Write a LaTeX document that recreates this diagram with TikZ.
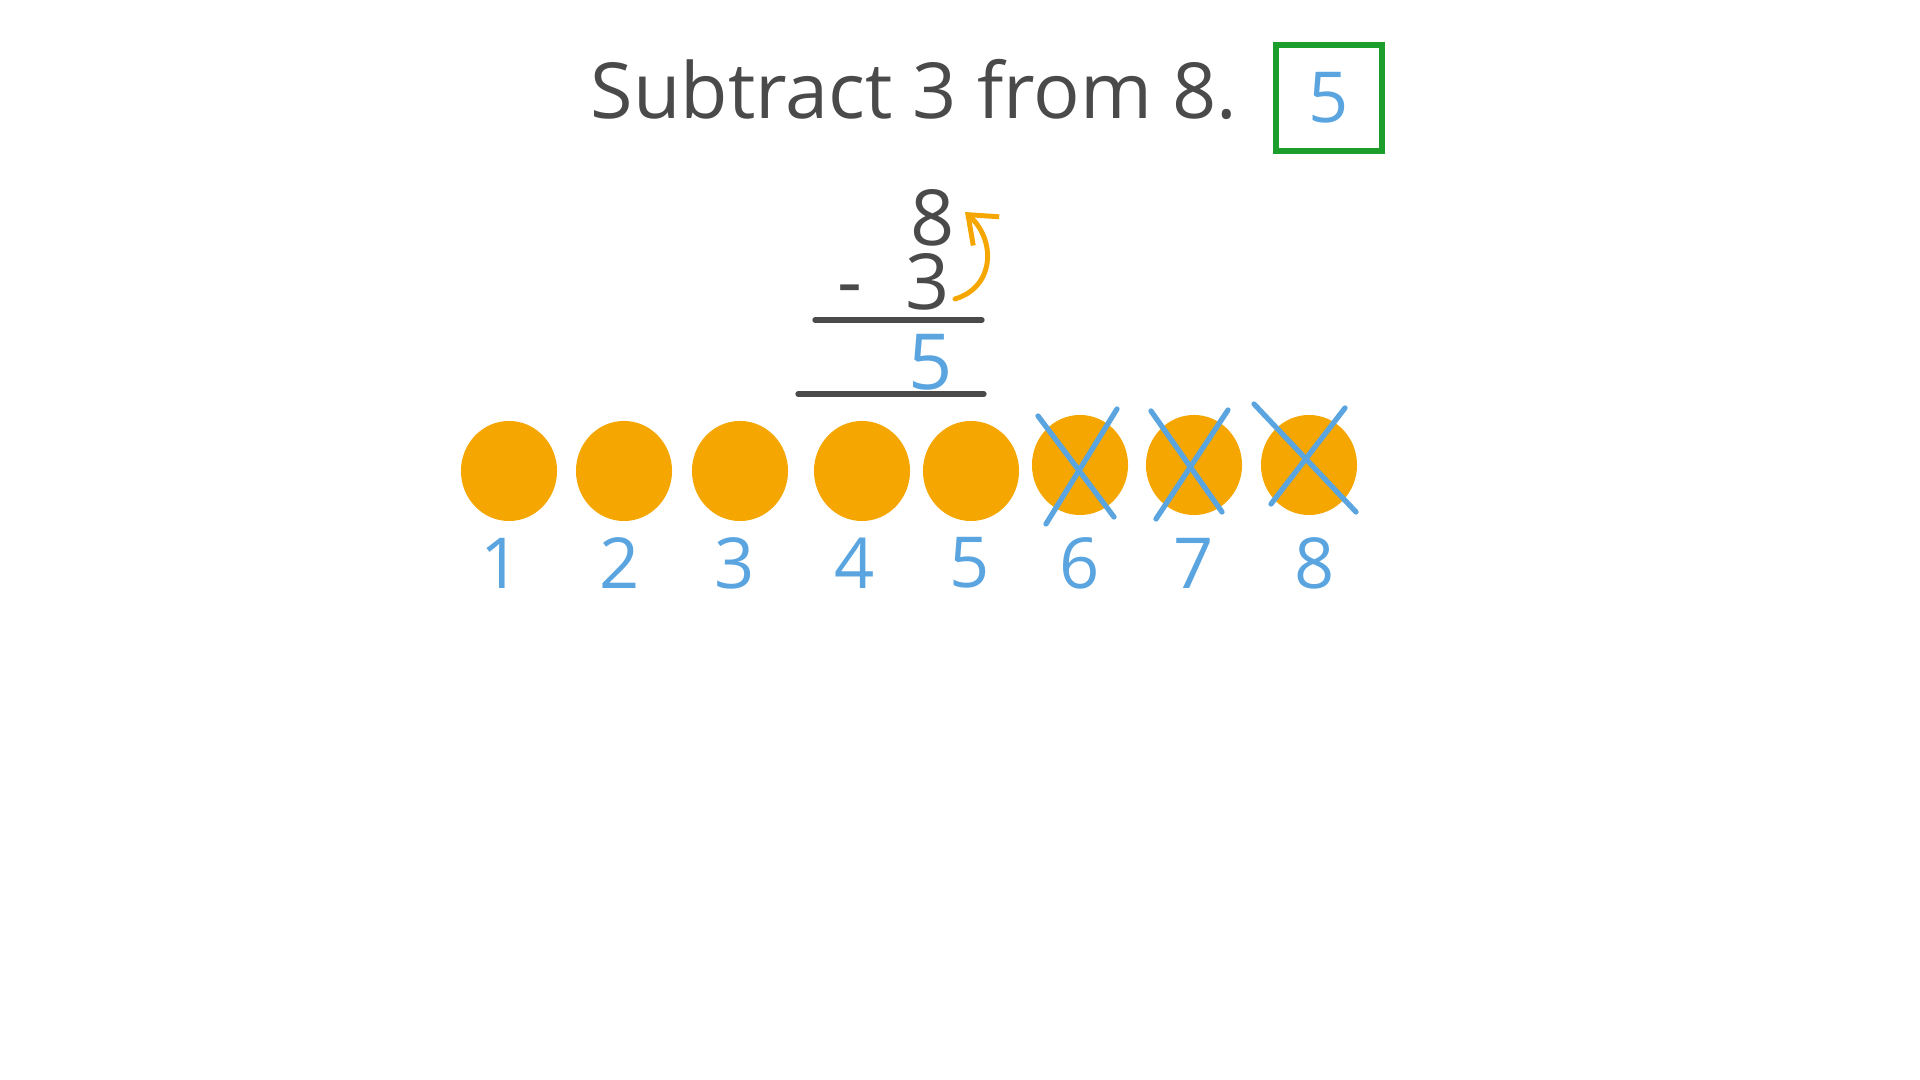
\documentclass[tikz,border=0pt]{standalone}
\usepackage{fontspec}
\setmainfont{Open Sans}
\usetikzlibrary{arrows.meta,shapes.geometric}
\definecolor{inkgray}{HTML}{4A4A4A}
\definecolor{inkblue}{HTML}{5AA5E0}
\definecolor{dotorange}{HTML}{F5A600}
\definecolor{boxgreen}{HTML}{1C9E2C}

\begin{document}
\begin{tikzpicture}[x=0.01cm, y=-0.01cm,
		ink/.style={line width=1.5pt, line cap=round, color=inkgray},
		cross/.style={line width=1.5pt, line cap=round, color=inkblue},
		bendarrow/.style={line width=1.4pt, line cap=round, color=dotorange, -{Straight Barb[length=7pt,width=11pt]}},
		dot/.style={ellipse, fill=dotorange, minimum width=0.96cm, minimum height=1.0cm, inner sep=0pt},
		num/.style={text=inkblue, font=\fontsize{20}{24}\selectfont},
		sum/.style={text=inkgray, inner sep=0pt, font=\fontsize{22}{26}\selectfont}]
		%%%%% START %%%%%
		\useasboundingbox (0,0) rectangle (1920,1080);
		
		\node[anchor=base, text=inkgray, font=\fontsize{22}{26}\selectfont] (title) at (914,119) {Subtract 3 from 8.};
		\node[draw=boxgreen, line width=1.5pt, minimum width=1.06cm, minimum height=1.06cm, num] (answer) at (1329,98) {5};
		
		\node[sum] (eight) at (933,218) {8};
		\node[sum] (minus) at (850,297) {-};
		\node[sum] (three) at (928,282) {3};
		\draw[ink] (815,320) -- (982,320);
		\node[sum, text=inkblue] (diff) at (931,362) {5};
		\draw[ink] (798,394) -- (984,394);
		
		\coordinate (arcfrom) at (955,299);
		\coordinate (arcto) at (965,212);
		\draw[bendarrow] (arcfrom) .. controls (995,287) and (996,240) .. (arcto);
		
		\foreach \x/\y [count=\i] in {509/471,624/471,740/471,862/471,971/471,1080/465,1194/465,1309/465}
			\node[dot] (dot\i) at (\x,\y) {};
		\foreach \x [count=\i] in {501,620,735,855,970,1080,1194,1315}
			\node[num] (num\i) at (\x,563) {\i};
		
		\draw[cross] (1038,416) -- (1114,517);
		\draw[cross] (1117,409) -- (1046,524);
		\draw[cross] (1151,411) -- (1222,512);
		\draw[cross] (1228,410) -- (1156,519);
		\draw[cross] (1254,404) -- (1356,512);
		\draw[cross] (1345,408) -- (1271,504);
		
		%%%%% END %%%%%
	\end{tikzpicture}
\end{document}
